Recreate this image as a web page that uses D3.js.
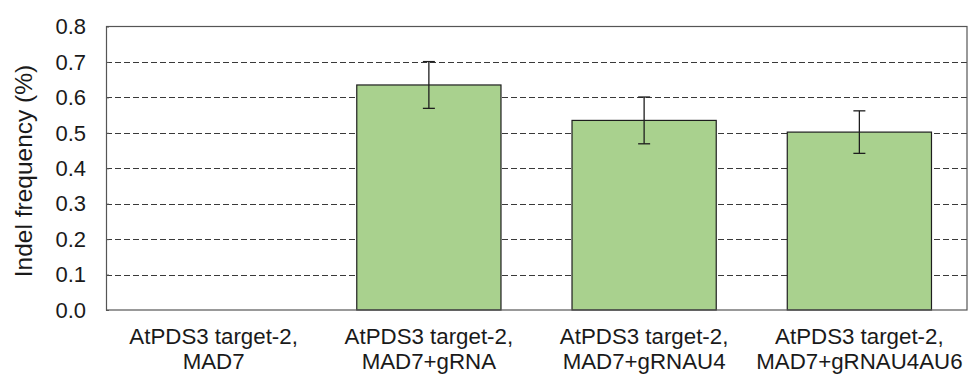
<!DOCTYPE html>
<html lang="en">
<head>
    <title>Indel frequency</title>
    <script src="https://d3js.org/d3.v7.min.js"></script>
    <style>
        body { margin: 0; background: white; }
        text { font-family: "Liberation Sans", Arial, sans-serif; fill: #1a1a1a; }
    </style>
</head>
<body>
    <div id="chart"></div>
    <script>
        // data
        const categories = [
            ["AtPDS3 target-2,", "MAD7"],
            ["AtPDS3 target-2,", "MAD7+gRNA"],
            ["AtPDS3 target-2,", "MAD7+gRNAU4"],
            ["AtPDS3 target-2,", "MAD7+gRNAU4AU6"]
        ];
        const values = [0, 0.635, 0.535, 0.502];
        const errors = [0, 0.066, 0.066, 0.06];
        const yTicks = [0, 0.1, 0.2, 0.3, 0.4, 0.5, 0.6, 0.7, 0.8];

        const svgWidth = 979, svgHeight = 383;
        const plotLeft = 106, plotRight = 967, plotTop = 26.5, plotBottom = 310;

        const svg = d3.select('#chart').append('svg')
            .attr('width', svgWidth)
            .attr('height', svgHeight);

        const x = d3.scaleBand()
            .domain(d3.range(categories.length))
            .range([plotLeft, plotRight])
            .paddingInner(0.33)
            .paddingOuter(0.165);

        const y = d3.scaleLinear()
            .domain([0, 0.8])
            .range([plotBottom, plotTop]);

        const rows = values.map((v, i) => ({ i: i, v: v, e: errors[i] }));

        // gridlines
        svg.append('g')
            .selectAll('line')
            .data(yTicks.filter(d => d > 0 && d < 0.8))
            .join('line')
            .attr('x1', plotLeft).attr('x2', plotRight)
            .attr('y1', d => Math.round(y(d)) + 0.5)
            .attr('y2', d => Math.round(y(d)) + 0.5)
            .attr('stroke', '#3a3a3a')
            .attr('stroke-width', 1)
            .attr('stroke-dasharray', '6,3');

        // bars
        svg.append('g')
            .selectAll('rect')
            .data(rows.filter(d => d.v > 0))
            .join('rect')
            .attr('x', d => x(d.i))
            .attr('y', d => y(d.v))
            .attr('width', x.bandwidth())
            .attr('height', d => plotBottom - y(d.v))
            .attr('fill', '#a9d18e')
            .attr('stroke', '#1e1e1e')
            .attr('stroke-width', 1.2);

        // error bars
        const eb = svg.append('g')
            .attr('stroke', '#1e1e1e')
            .attr('stroke-width', 1.3);
        rows.filter(d => d.e > 0).forEach(d => {
            const cx = x(d.i) + x.bandwidth() / 2;
            eb.append('line').attr('x1', cx).attr('x2', cx)
                .attr('y1', y(d.v + d.e)).attr('y2', y(d.v - d.e));
            [d.v + d.e, d.v - d.e].forEach(e => {
                eb.append('line').attr('x1', cx - 6).attr('x2', cx + 6)
                    .attr('y1', y(e)).attr('y2', y(e));
            });
        });

        // frame
        svg.append('rect')
            .attr('x', plotLeft + 0.5).attr('y', plotTop)
            .attr('width', plotRight - plotLeft - 0.5).attr('height', plotBottom - plotTop)
            .attr('fill', 'none')
            .attr('stroke', '#555')
            .attr('stroke-width', 1.2);

        // y axis
        const yAxis = svg.append('g')
            .attr('transform', `translate(${plotLeft},0)`)
            .call(d3.axisRight(y).tickValues(yTicks).tickSize(3).tickFormat(''));
        yAxis.select('.domain').remove();
        yAxis.selectAll('line').attr('stroke', '#555');

        svg.append('g')
            .selectAll('text')
            .data(yTicks)
            .join('text')
            .attr('x', 86)
            .attr('y', d => y(d) + 7.8)
            .attr('text-anchor', 'end')
            .attr('font-size', '22px')
            .text(d => d3.format('.1f')(d));

        svg.append('text')
            .attr('transform', 'translate(32,171) rotate(-90)')
            .attr('text-anchor', 'middle')
            .attr('font-size', '24.5px')
            .text('Indel frequency (%)');

        // x labels
        const xl = svg.append('g');
        categories.forEach((c, i) => {
            const cx = x(i) + x.bandwidth() / 2;
            c.forEach((line, j) => {
                xl.append('text')
                    .attr('x', cx)
                    .attr('y', 344 + j * 24.5)
                    .attr('text-anchor', 'middle')
                    .attr('font-size', '22.3px')
                    .text(line);
            });
        });
    </script>
</body>
</html>
